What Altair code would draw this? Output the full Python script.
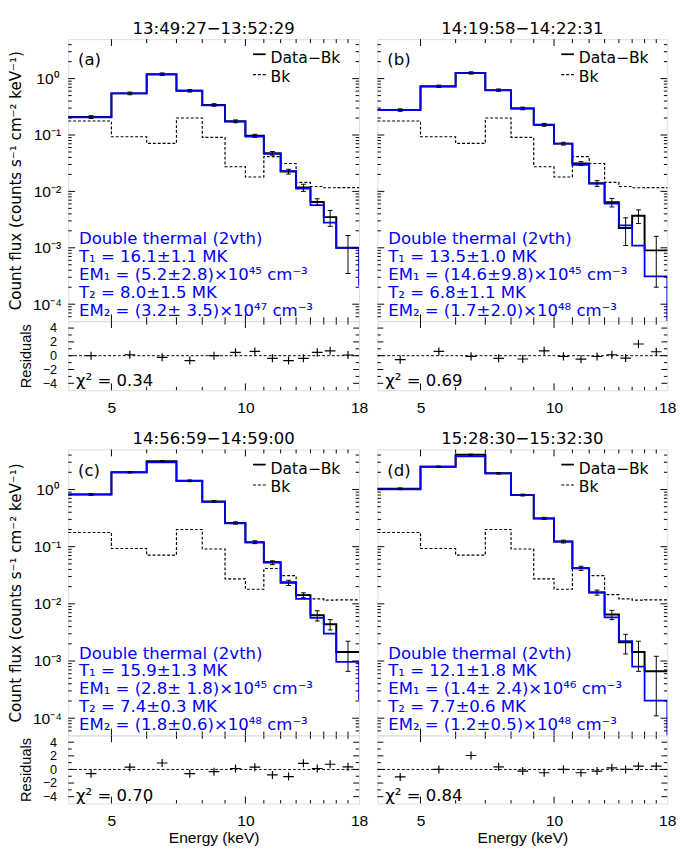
import json
import math
import altair as alt
import pandas as pd

# ---------------- data ----------------
EDGES = [4, 5, 6, 7, 8, 9, 10, 11, 12, 13, 14, 15, 16, 18]
NEXT_EDGE = 20  # upper edge of the model bin lying just beyond the plotted range

TITLES = ["13:49:27−13:52:29", "14:19:58−14:22:31", "14:56:59−14:59:00", "15:28:30−15:32:30"]
PANEL_LABELS = ["(a)", "(b)", "(c)", "(d)"]
CHI2 = ["0.34", "0.69", "0.70", "0.84"]

BK = [0.177, 0.093, 0.071, 0.200, 0.091, 0.0274, 0.0180, 0.0415, 0.0312, 0.0145, 0.0122, 0.0116, 0.0117]

DATA_A = [0.208, 0.547, 1.20, 0.608, 0.341, 0.175, 0.097, 0.0474, 0.0225, 0.0117, 0.0065, 0.0035, 0.00100]
ERR_A = [0.012, 0.030, 0.060, 0.030, 0.018, 0.010, 0.006, 0.0035, 0.0022, 0.0017, 0.0009, 0.0011, 0.00065]
MODEL_A = [0.205, 0.545, 1.18, 0.610, 0.335, 0.172, 0.094, 0.0465, 0.0228, 0.0112, 0.0057, 0.0028, 0.00100, 0.00022]
RESID_A = [0.0, 0.14, -0.24, -0.71, 0.0, 0.48, 0.62, -0.38, -0.71, -0.38, 0.48, 0.71, 0.10]

DATA_B = [0.277, 0.73, 1.26, 0.625, 0.296, 0.152, 0.0703, 0.0312, 0.0139, 0.0064, 0.00225, 0.0037, 0.00090]
ERR_B = [0.014, 0.035, 0.060, 0.030, 0.016, 0.009, 0.004, 0.0025, 0.0016, 0.0011, 0.00115, 0.0010, 0.0007]
MODEL_B = [0.277, 0.72, 1.25, 0.620, 0.296, 0.150, 0.0700, 0.0295, 0.0137, 0.0061, 0.0025, 0.00109, 0.00031, 0.00003]
RESID_B = [-0.57, 0.62, -0.10, -0.38, -0.48, 0.71, -0.10, -0.50, -0.12, 0.14, -0.35, 1.70, 0.57]

DATA_C = [0.82, 2.00, 3.12, 1.42, 0.617, 0.260, 0.120, 0.0526, 0.0234, 0.0142, 0.0063, 0.0044, 0.00144]
ERR_C = [0.030, 0.060, 0.080, 0.050, 0.025, 0.012, 0.007, 0.004, 0.0025, 0.0014, 0.0013, 0.0009, 0.00078]
MODEL_C = [0.82, 2.00, 2.97, 1.42, 0.610, 0.255, 0.118, 0.0540, 0.0240, 0.0122, 0.0057, 0.0030, 0.00097, 0.000216]
RESID_C = [-0.62, 0.33, 0.95, -0.62, -0.33, 0.14, 0.33, -0.81, -1.05, 0.90, 0.14, 0.76, 0.38]

DATA_D = [1.03, 2.50, 4.06, 1.92, 0.80, 0.312, 0.123, 0.042, 0.0158, 0.0065, 0.00213, 0.00144, 0.00066]
ERR_D = [0.035, 0.070, 0.100, 0.060, 0.030, 0.014, 0.007, 0.0035, 0.0016, 0.0012, 0.0008, 0.00078, 0.00055]
MODEL_D = [1.00, 2.50, 3.80, 1.92, 0.80, 0.312, 0.123, 0.042, 0.0158, 0.0058, 0.00222, 0.00080, 0.000203, 0.00003]
RESID_D = [-1.10, 0.0, 2.05, 0.38, -0.24, -0.48, 0.0, -0.48, -0.24, 0.24, 0.0, 0.48, 0.48]

FIT_A = ["Double thermal (2vth)", "T₁ = 16.1±1.1 MK", "EM₁ = (5.2±2.8)×10⁴⁵ cm⁻³",
         "T₂ =  8.0±1.5 MK", "EM₂ = (3.2± 3.5)×10⁴⁷ cm⁻³"]
FIT_B = ["Double thermal (2vth)", "T₁ = 13.5±1.0 MK", "EM₁ = (14.6±9.8)×10⁴⁵ cm⁻³",
         "T₂ =  6.8±1.1 MK", "EM₂ = (1.7±2.0)×10⁴⁸ cm⁻³"]
FIT_C = ["Double thermal (2vth)", "T₁ = 15.9±1.3 MK", "EM₁ = (2.8± 1.8)×10⁴⁵ cm⁻³",
         "T₂ =  7.4±0.3 MK", "EM₂ = (1.8±0.6)×10⁴⁸ cm⁻³"]
FIT_D = ["Double thermal (2vth)", "T₁ = 12.1±1.8 MK", "EM₁ = (1.4± 2.4)×10⁴⁶ cm⁻³",
         "T₂ =  7.7±0.6 MK", "EM₂ = (1.2±0.5)×10⁴⁸ cm⁻³"]

# axes
X_DOMAIN = [4, 18]
Y_DOMAIN = [5e-5, 5]
R_DOMAIN = [-5, 5]
X_LABELS = [5, 10, 18]
X_MAJOR = [5, 10]
X_MINOR = [6, 7, 8, 9, 11, 12, 13, 14, 15, 16, 17]
Y_MAJOR = [1e-4, 1e-3, 1e-2, 1e-1, 1.0]
Y_LABELS = ["10⁻⁴", "10⁻³", "10⁻²", "10⁻¹", "10⁰"]
Y_DECADES = [1e-5, 1e-4, 1e-3, 1e-2, 1e-1, 1.0]
Y_MULT = [2, 3, 4, 5, 6, 7, 8, 9]
R_MAJOR = [-4, -2, 0, 2, 4]
R_MINOR = [-3, -1, 1, 3]

Y_MINOR = [m * d for d in Y_DECADES for m in Y_MULT if Y_DOMAIN[0] < m * d < Y_DOMAIN[1]]

# ---------------- style ----------------
BLUE = "#0000ff"
FT = "DejaVu Sans"
FA = "Liberation Sans"
W_COL = [299, 298]
H_MAIN = [290, 294]
H_RES = [71, 70]
ROW_GAP = 14
COL_GAP = 4

XS = alt.Scale(type="log", domain=X_DOMAIN)
YS = alt.Scale(type="log", domain=Y_DOMAIN)
RS = alt.Scale(type="linear", domain=R_DOMAIN)

ONE = alt.Data(values=[{}])
CROSS = "M-1,0L1,0M0,-0.75L0,0.75"

y_off = -round(math.log10(Y_MAJOR[0]))
Y_LABEL_EXPR = json.dumps(Y_LABELS, ensure_ascii=False) + f"[round(log(datum.value)/LN10) + {y_off}]"


def tick_rules(vals, side, length, W, H, scale, field, ax):
    df = pd.DataFrame({field: vals})
    base = alt.Chart(df).mark_rule(color="black", strokeWidth=1)
    if side in ("bottom", "top"):
        enc = dict(x=alt.X(f"{field}:Q", scale=scale, axis=ax))
        if side == "bottom":
            enc.update(y=alt.value(H), y2=alt.value(H - length))
        else:
            enc.update(y=alt.value(0), y2=alt.value(length))
    else:
        enc = dict(y=alt.Y(f"{field}:Q", scale=scale, axis=ax))
        if side == "left":
            enc.update(x=alt.value(0), x2=alt.value(length))
        else:
            enc.update(x=alt.value(W), x2=alt.value(W - length))
    return base.encode(**enc)


def main_chart(i, data, err, model, fit, W, H, with_labels):
    centers = [(EDGES[k] + EDGES[k + 1]) / 2 for k in range(len(EDGES) - 1)]
    bk_df = pd.DataFrame({"x": EDGES, "y": BK + [BK[-1]]})
    d_df = pd.DataFrame({"x": EDGES, "y": data + [data[-1]]})
    m_df = pd.DataFrame({"x": EDGES + [NEXT_EDGE], "y": model + [model[-1]]})
    e_df = pd.DataFrame({"x": centers, "y": [d - e for d, e in zip(data, err)],
                         "hi": [d + e for d, e in zip(data, err)]})

    if with_labels:
        YA = alt.Axis(values=Y_MAJOR, labelExpr=Y_LABEL_EXPR, ticks=False, domain=False, grid=False,
                      labelFont=FA, labelFontSize=16, labelColor="black", labelAlign="center",
                      labelPadding=22, labelOverlap=False,
                      title="Count flux (counts s⁻¹ cm⁻² keV⁻¹)", titleFont=FT, titleFontSize=15.5,
                      titleFontWeight="normal", titleColor="black", titlePadding=9)
    else:
        YA = None
    XA = None

    X = alt.X("x:Q", scale=XS, axis=XA)
    Y = alt.Y("y:Q", scale=YS, axis=YA)
    bk = alt.Chart(bk_df).mark_line(interpolate="step-after", color="black", strokeWidth=1.2,
                                    strokeDash=[3, 2]).encode(x=X, y=Y)
    dline = alt.Chart(d_df).mark_line(interpolate="step-after", color="black", strokeWidth=2).encode(x=X, y=Y)
    mline = alt.Chart(m_df).mark_line(interpolate="step-after", color=BLUE, strokeWidth=1.8,
                                      clip=True).encode(x=X, y=Y)
    ebar = alt.Chart(e_df).mark_rule(color="black", strokeWidth=1).encode(x=X, y=Y, y2="hi:Q")
    cap_lo = alt.Chart(e_df).mark_tick(orient="horizontal", size=5, thickness=1, color="black",
                                       opacity=1).encode(x=X, y=Y)
    cap_hi = alt.Chart(e_df).mark_tick(orient="horizontal", size=5, thickness=1, color="black",
                                       opacity=1).encode(x=X, y=alt.Y("hi:Q", scale=YS, axis=YA))

    ticks = [
        tick_rules(X_MAJOR, "bottom", 7, W, H, XS, "x", XA), tick_rules(X_MINOR, "bottom", 4, W, H, XS, "x", XA),
        tick_rules(X_MAJOR, "top", 7, W, H, XS, "x", XA), tick_rules(X_MINOR, "top", 4, W, H, XS, "x", XA),
        tick_rules(Y_MAJOR, "left", 7, W, H, YS, "y", YA), tick_rules(Y_MINOR, "left", 3.5, W, H, YS, "y", YA),
        tick_rules(Y_MAJOR, "right", 7, W, H, YS, "y", YA), tick_rules(Y_MINOR, "right", 3.5, W, H, YS, "y", YA),
    ]

    leg_solid = alt.Chart(ONE).mark_rule(color="black", strokeWidth=1.8).encode(
        x=alt.value(W - 109), x2=alt.value(W - 96), y=alt.value(15.5))
    leg_dash = alt.Chart(ONE).mark_rule(color="black", strokeWidth=1.2, strokeDash=[3, 2]).encode(
        x=alt.value(W - 109), x2=alt.value(W - 96), y=alt.value(36.5))
    leg_t1 = alt.Chart(ONE).mark_text(align="left", font=FT, fontSize=16, color="black").encode(
        x=alt.value(W - 91), y=alt.value(20), text=alt.value("Data−Bk"))
    leg_t2 = alt.Chart(ONE).mark_text(align="left", font=FT, fontSize=16, color="black").encode(
        x=alt.value(W - 91), y=alt.value(39), text=alt.value("Bk"))
    plabel = alt.Chart(ONE).mark_text(align="left", font=FT, fontSize=17, color="black").encode(
        x=alt.value(10), y=alt.value(22), text=alt.value(PANEL_LABELS[i]))
    fit_txt = alt.Chart(ONE).mark_text(align="left", font=FT, fontSize=17, color=BLUE, lineHeight=18.3).encode(
        x=alt.value(11), y=alt.value(H - 84), text=alt.value(fit))

    layers = [bk, dline, mline, ebar, cap_lo, cap_hi] + ticks + [leg_solid, leg_dash, leg_t1, leg_t2, plabel, fit_txt]
    return alt.layer(*layers).properties(
        width=W, height=H,
        title=alt.TitleParams(TITLES[i], font=FT, fontSize=17, fontWeight="normal", color="black",
                              anchor="middle", offset=1))


def resid_chart(i, resid, W, H, with_ylabels, with_xtitle):
    centers = [(EDGES[k] + EDGES[k + 1]) / 2 for k in range(len(EDGES) - 1)]
    r_df = pd.DataFrame({"x": centers, "r": resid})
    XA = alt.Axis(values=X_LABELS, format="d", ticks=False, domain=False, grid=False, labelFont=FA,
                  labelFontSize=16, labelColor="black", labelPadding=10, labelFlush=False,
                  labelOverlap=False,
                  title="Energy (keV)" if with_xtitle else None, titleFont=FA, titleFontSize=16,
                  titleFontWeight="normal", titleColor="black", titlePadding=1.5)
    if with_ylabels:
        YA = alt.Axis(values=R_MAJOR, format="d", ticks=False, domain=False, grid=False, labelFont=FA,
                      labelFontSize=13, labelColor="black", labelPadding=12, labelOverlap=False,
                      title="Residuals", titleFont=FA, titleFontSize=15, titleFontWeight="normal",
                      titleColor="black", titlePadding=9)
    else:
        YA = None
    X = alt.X("x:Q", scale=XS, axis=XA)
    Y = alt.Y("r:Q", scale=RS, axis=YA)
    zero = alt.Chart(pd.DataFrame({"r": [0]})).mark_rule(color="black", strokeWidth=1,
                                                          strokeDash=[3, 2]).encode(y=Y)
    pts = alt.Chart(r_df).mark_point(shape=CROSS, filled=False, color="black", strokeWidth=1.2, size=121,
                                     opacity=1).encode(x=X, y=Y)
    ticks = [
        tick_rules(X_MAJOR, "bottom", 7, W, H, XS, "x", XA), tick_rules(X_MINOR, "bottom", 3.5, W, H, XS, "x", XA),
        tick_rules(X_MAJOR, "top", 7, W, H, XS, "x", XA), tick_rules(X_MINOR, "top", 3.5, W, H, XS, "x", XA),
        tick_rules(R_MAJOR, "left", 6, W, H, RS, "r", YA), tick_rules(R_MINOR, "left", 3.5, W, H, RS, "r", YA),
        tick_rules(R_MAJOR, "right", 6, W, H, RS, "r", YA), tick_rules(R_MINOR, "right", 3.5, W, H, RS, "r", YA),
    ]
    chi = alt.Chart(ONE).mark_text(align="left", font=FT, fontSize=17, color="black").encode(
        x=alt.value(8), y=alt.value(62), text=alt.value("χ² = " + CHI2[i]))
    return alt.layer(zero, pts, *ticks, chi).properties(width=W, height=H)


PANELS = [
    (DATA_A, ERR_A, MODEL_A, RESID_A, FIT_A),
    (DATA_B, ERR_B, MODEL_B, RESID_B, FIT_B),
    (DATA_C, ERR_C, MODEL_C, RESID_C, FIT_C),
    (DATA_D, ERR_D, MODEL_D, RESID_D, FIT_D),
]

rows = []
for r in range(2):
    cols = []
    for c in range(2):
        i = r * 2 + c
        data, err, model, resid, fit = PANELS[i]
        W = W_COL[c]
        top = main_chart(i, data, err, model, fit, W, H_MAIN[r], c == 0)
        bot = resid_chart(i, resid, W, H_RES[r], c == 0, r == 1)
        cols.append(alt.vconcat(top, bot, spacing=0, bounds="flush"))
    rows.append(alt.hconcat(*cols, spacing=COL_GAP))

chart = alt.vconcat(*rows, spacing=ROW_GAP).properties(padding=0).configure_view(
    stroke="black", strokeWidth=1.2).configure(background="white")

chart.save("out.html", embed_options={"renderer": "svg", "actions": False})
